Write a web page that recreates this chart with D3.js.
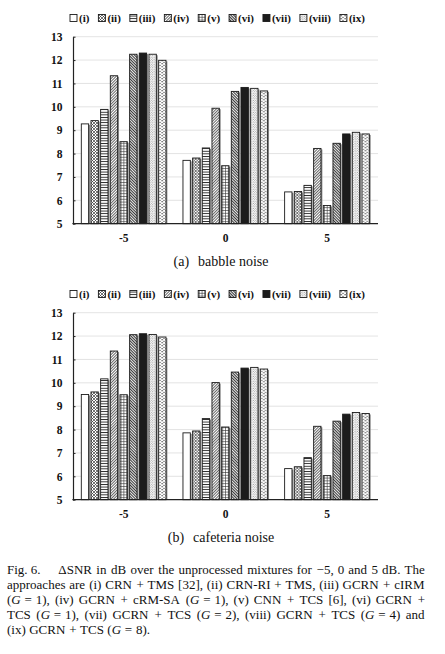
<!DOCTYPE html>
<html><head><meta charset="utf-8">
<script src="https://cdn.jsdelivr.net/npm/d3@7"></script>
<style>body{margin:0;background:#fff}</style>
</head><body>
<svg id="c" width="445" height="654"></svg>
<script>
// ---- data ----
const categories = ["-5", "0", "5"];
const series = ["(i)", "(ii)", "(iii)", "(iv)", "(v)", "(vi)", "(vii)", "(viii)", "(ix)"];
const babbleM5 = [9.27, 9.41, 9.89, 11.33, 8.51, 12.25, 12.30, 12.25, 11.99];
const babble0  = [7.71, 7.81, 8.24, 9.94, 7.48, 10.66, 10.83, 10.79, 10.68];
const babble5  = [6.36, 6.38, 6.64, 8.22, 5.78, 8.44, 8.84, 8.91, 8.84];
const cafM5 = [9.50, 9.61, 10.17, 11.36, 9.49, 12.06, 12.10, 12.07, 11.96];
const caf0  = [7.86, 7.94, 8.47, 10.01, 8.11, 10.46, 10.63, 10.66, 10.59];
const caf5  = [6.33, 6.41, 6.80, 8.14, 6.03, 8.36, 8.66, 8.73, 8.69];
const yTicks = [5, 6, 7, 8, 9, 10, 11, 12, 13];
const panelLabels = ["(a)", "(b)"];
const panelNames = ["babble noise", "cafeteria noise"];
// "*G*" = italic G, "_" = math space
const captionLines = [
  "ΔSNR in dB over the unprocessed mixtures for −5, 0 and 5 dB. The",
  "approaches are (i) CRN + TMS [32], (ii) CRN-RI + TMS, (iii) GCRN + cIRM",
  "(*G*_=_1), (iv) GCRN + cRM-SA (*G*_=_1), (v) CNN + TCS [6], (vi) GCRN +",
  "TCS (*G*_=_1), (vii) GCRN + TCS (*G*_=_2), (viii) GCRN + TCS (*G*_=_4) and",
  "(ix) GCRN + TCS (*G*_=_8)."
];
const panels = [
  { values: [babbleM5, babble0, babble5] },
  { values: [cafM5, caf0, caf5] }
];

// ---- drawing ----
const svg = d3.select("#c");
svg.append("rect").attr("width", 445).attr("height", 654).attr("fill", "#fff");
const defs = svg.append("defs");
function pat(id, w, h, fn, transform) {
  const p = defs.append("pattern").attr("id", id).attr("patternUnits", "userSpaceOnUse")
    .attr("width", w).attr("height", h);
  if (transform) p.attr("patternTransform", transform);
  p.append("rect").attr("width", w).attr("height", h).attr("fill", "#fff");
  fn(p);
}
pat("p2", 3, 3, p => {
  p.append("path").attr("d", "M0,0L3,3M3,0L0,3").attr("stroke", "#3a3a3a").attr("stroke-width", 0.7);
});
pat("p3", 4, 2.6, p => {
  p.append("rect").attr("y", 0).attr("width", 4).attr("height", 0.9).attr("fill", "#222");
});
pat("p4", 2, 2, p => {
  p.append("rect").attr("width", 0.85).attr("height", 2).attr("fill", "#4a4a4a");
}, "rotate(45)");
pat("p5", 2.8, 2.8, p => {
  p.append("rect").attr("width", 2.8).attr("height", 0.6).attr("fill", "#333");
  p.append("rect").attr("width", 0.6).attr("height", 2.8).attr("fill", "#333");
});
pat("p6", 2, 2, p => {
  p.append("rect").attr("width", 1.1).attr("height", 2).attr("fill", "#3a3a3a");
}, "rotate(-45)");
pat("p8", 2.4, 2.4, p => {
  p.append("circle").attr("cx", 0.6).attr("cy", 0.6).attr("r", 0.45).attr("fill", "#555");
  p.append("circle").attr("cx", 1.8).attr("cy", 1.8).attr("r", 0.45).attr("fill", "#555");
});
pat("p9", 4, 3, p => {
  p.append("rect").attr("x", 0.3).attr("y", 0.4).attr("width", 1.8).attr("height", 0.8).attr("fill", "#333");
  p.append("rect").attr("x", 2.3).attr("y", 1.9).attr("width", 1.4).attr("height", 0.8).attr("fill", "#333");
});
const fills = ["#fff", "url(#p2)", "url(#p3)", "url(#p4)", "url(#p5)", "url(#p6)", "#1c1c1c", "url(#p8)", "url(#p9)"];

const font = "'Liberation Serif','Times New Roman',serif";
const x = d3.scaleBand().domain(categories).range([73, 378]);
const xs = d3.scaleBand().domain(series).range([8.3, 95.3]);
const y = d3.scaleLinear().domain([5, 13]).range([223.7, 36.7]);
const bw = xs.bandwidth() * 0.76;

panels.forEach((panel, pi) => {
  const g = svg.append("g").attr("transform", `translate(0,${pi * 276})`);
  // grid
  g.append("g").selectAll("line").data(yTicks.slice(1)).join("line")
    .attr("x1", 73).attr("x2", 378).attr("y1", d => y(d)).attr("y2", d => y(d))
    .attr("stroke", "#dcdcdc").attr("stroke-width", 0.8);
  // bars
  const cg = g.append("g").selectAll("g").data(categories).join("g")
    .attr("transform", d => `translate(${x(d)},0)`);
  cg.each(function (c, ci) {
    const vals = panel.values[ci];
    const sel = d3.select(this);
    sel.selectAll("rect.sh").data(series).join("rect").attr("class", "sh")
      .attr("x", s => xs(s) + 1.4).attr("y", (s, i) => y(vals[i]) + 1)
      .attr("width", bw).attr("height", (s, i) => y(5) - y(vals[i]) - 1)
      .attr("fill", "#8c8c8c");
    sel.selectAll("rect.b").data(series).join("rect").attr("class", "b")
      .attr("x", s => xs(s)).attr("y", (s, i) => y(vals[i]))
      .attr("width", bw).attr("height", (s, i) => y(5) - y(vals[i]))
      .attr("fill", (s, i) => fills[i]).attr("stroke", "#1a1a1a").attr("stroke-width", 0.9);
  });
  // y axis
  const ya = g.append("g").attr("transform", "translate(73,0)")
    .call(d3.axisLeft(y).tickValues(yTicks).tickFormat(d3.format("d"))
      .tickSizeInner(-2.5).tickSizeOuter(0).tickPadding(10.5));
  ya.select(".domain").attr("stroke", "#222").attr("stroke-width", 1.2);
  ya.selectAll(".tick line").attr("stroke", "#222").attr("stroke-width", 1);
  ya.selectAll("text").attr("font-family", font).attr("font-weight", "bold")
    .attr("font-size", 11.5).attr("fill", "#111");
  // x axis
  const xa = g.append("g").attr("transform", `translate(0,${y(5)})`)
    .call(d3.axisBottom(x).tickSize(0).tickPadding(10));
  xa.select(".domain").remove();
  xa.append("line").attr("x1", 72.4).attr("x2", 378).attr("stroke", "#222").attr("stroke-width", 1.3);
  xa.selectAll("text").attr("font-family", font).attr("font-weight", "bold")
    .attr("font-size", 11.5).attr("fill", "#111");
  // legend
  const lg = g.append("g");
  let lx = 70;
  series.forEach((s, i) => {
    lg.append("rect").attr("x", lx).attr("y", 14.5).attr("width", 7).attr("height", 7)
      .attr("fill", fills[i]).attr("stroke", "#1a1a1a").attr("stroke-width", 0.9);
    const t = lg.append("text").attr("x", lx + 9).attr("y", 21.5).text(s)
      .attr("font-family", font).attr("font-weight", "bold").attr("font-size", 11).attr("fill", "#111");
    lx += 9 + t.node().getComputedTextLength() + 9;
  });
  // subcaption
  const sc = g.append("text").attr("y", 266).attr("font-family", font).attr("font-size", 14)
    .attr("fill", "#111").attr("text-anchor", "middle").attr("x", 221);
  sc.append("tspan").text(panelLabels[pi]);
  sc.append("tspan").attr("dx", 9).text(panelNames[pi]);
});

// figure caption
function addWord(parent, word, xpos, ypos) {
  const t = parent.append("text").attr("x", xpos).attr("y", ypos)
    .attr("font-family", font).attr("font-size", 13).attr("fill", "#111");
  let pendingDx = 0;
  word.split(/(\*G\*|_)/).forEach(part => {
    if (part === "_") { pendingDx += 3.8; return; }
    if (!part) return;
    const ts = t.append("tspan").text(part === "*G*" ? "G" : part);
    if (part === "*G*") ts.attr("font-style", "italic");
    if (pendingDx) { ts.attr("dx", pendingDx); pendingDx = 0; }
  });
  return t;
}
const cap = svg.append("g");
addWord(cap, "Fig. 6.", 7, 574);
captionLines.forEach((line, li) => {
  const yy = 574 + li * 15;
  const x0 = li === 0 ? 58.3 : 7, x1 = 425;
  const words = line.split(" ");
  const nodes = words.map(w => addWord(cap, w, 0, yy));
  const widths = nodes.map(n => n.node().getBBox().width);
  const total = d3.sum(widths);
  const justify = li < captionLines.length - 1;
  const gap = justify ? (x1 - x0 - total) / (words.length - 1) : 3.4;
  let cx = x0;
  nodes.forEach((n, i) => { n.attr("x", cx); cx += widths[i] + gap; });
});
</script>
</body></html>
